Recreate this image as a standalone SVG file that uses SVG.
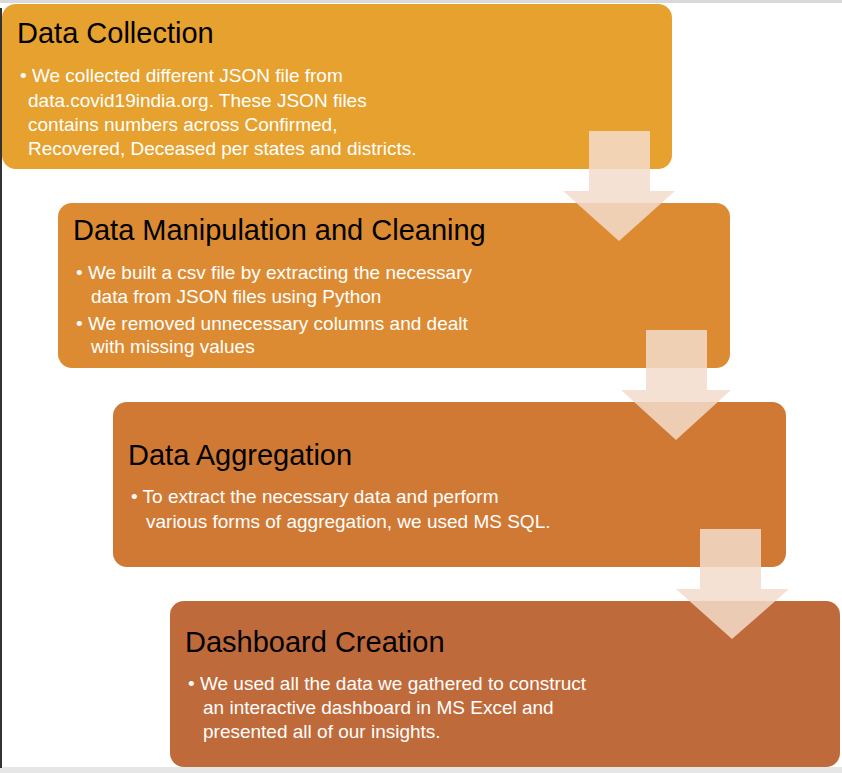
<svg xmlns="http://www.w3.org/2000/svg" width="842" height="773" viewBox="0 0 842 773">
<style>
.t{font-family:"Liberation Sans",Arial,sans-serif;font-size:29px;fill:#000}
.b{font-family:"Liberation Sans",Arial,sans-serif;font-size:19px;fill:#fff}
.ar{fill:#f3dccb;opacity:0.85}
</style>
<rect width="842" height="773" fill="#fff"/>
<rect x="0" y="0" width="842" height="3" fill="#d9d9d9"/>
<rect x="0" y="767" width="842" height="6" fill="#e6e6e6"/>
<rect x="0" y="8" width="2" height="760" fill="#333"/>
<g id="n1"><rect x="2" y="4" width="670" height="165" rx="14" fill="#e6a12f"/>
<text class="t" x="17" y="43">Data Collection</text>
<text class="b" x="20" y="82">• We collected different JSON file from</text>
<text class="b" x="28" y="107">data.covid19india.org. These JSON files</text>
<text class="b" x="28" y="131">contains numbers across Confirmed,</text>
<text class="b" x="28" y="155">Recovered, Deceased per states and districts.</text></g>
<g id="n2"><rect x="58" y="203" width="672" height="165" rx="14" fill="#dc8b32"/>
<text class="t" x="73" y="240">Data Manipulation and Cleaning</text>
<text class="b" x="76" y="279">• We built a csv file by extracting the necessary</text>
<text class="b" x="91" y="303">data from JSON files using Python</text>
<text class="b" x="76" y="330">• We removed unnecessary columns and dealt</text>
<text class="b" x="91" y="353">with missing values</text></g>
<g id="n3"><rect x="113" y="402" width="673" height="165" rx="14" fill="#d07935"/>
<text class="t" x="128" y="465">Data Aggregation</text>
<text class="b" x="131" y="503">• To extract the necessary data and perform</text>
<text class="b" x="146" y="528">various forms of aggregation, we used MS SQL.</text></g>
<g id="n4"><rect x="170" y="601" width="670" height="166" rx="14" fill="#bf6a3a"/>
<text class="t" x="185" y="652">Dashboard Creation</text>
<text class="b" x="188" y="690">• We used all the data we gathered to construct</text>
<text class="b" x="203" y="714">an interactive dashboard in MS Excel and</text>
<text class="b" x="203" y="738">presented all of our insights.</text></g>
<g id="connectors">
<polygon class="ar" points="589,131 650,131 650,191 675,191 619,241 563,191 589,191"/>
<polygon class="ar" points="646,330 707,330 707,390 731,390 676,440 621,390 646,390"/>
<polygon class="ar" points="700,529 761,529 761,589 789,589 732,639 676,589 700,589"/>
</g>
</svg>
